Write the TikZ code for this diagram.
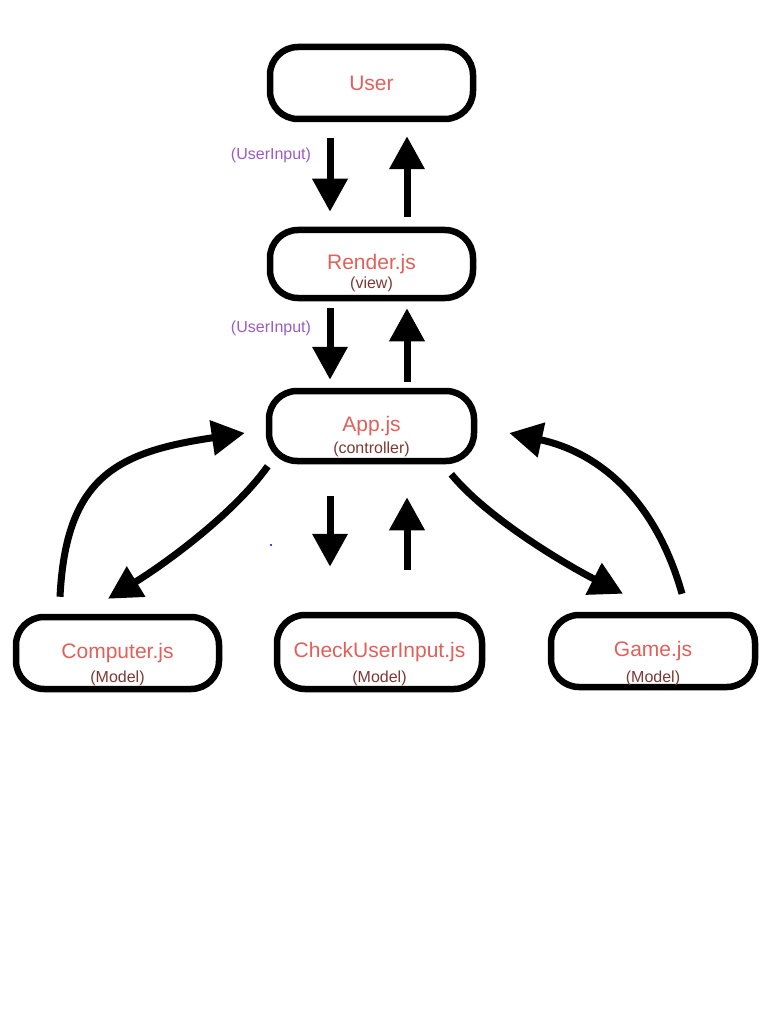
\documentclass[tikz,border=0pt]{standalone}
\usepackage{fontspec}
\setmainfont{Liberation Sans}
\usetikzlibrary{arrows.meta,calc}
\definecolor{titlered}{HTML}{E0605A}
\definecolor{subbrown}{HTML}{7A3A35}
\definecolor{inputpurple}{HTML}{9B5CC4}
\begin{document}
\begin{tikzpicture}[x=1pt,y=-1pt,
  box/.style={draw, line width=6.5pt, rounded corners=28pt, fill=white, text=titlered,
    font=\fontsize{21}{25}\selectfont, inner sep=0pt},
  subtxt/.style={text=subbrown, font=\fontsize{16}{19}\selectfont, inner sep=0pt},
  lbl/.style={text=inputpurple, font=\fontsize{16}{19}\selectfont, inner sep=0pt},
  arr/.style={line width=7pt, -{Triangle[length=33pt,width=34pt]}},
]
\useasboundingbox (0,0) rectangle (768,1024);
\fill[white] (0,0) rectangle (768,1024);

% boxes
\node[box, minimum width=203pt, minimum height=72pt] (user) at (371.5,83) {User};
\node[box, minimum width=203pt, minimum height=68pt] (render) at (371.5,264) {Render.js};
\node[box, minimum width=205pt, minimum height=70pt] (app) at (371.5,426) {App.js};
\node[box, minimum width=203pt, minimum height=72pt] (computer) at (117.5,653) {Computer.js};
\node[box, minimum width=205pt, minimum height=74pt] (check) at (379.5,652) {CheckUserInput.js};
\node[box, minimum width=204pt, minimum height=72pt] (game) at (653,651) {Game.js};

% sub labels
\node[subtxt] (renderSub) at ($(render.center)+(0,20)$) {(view)};
\node[subtxt] (appSub) at ($(app.center)+(0,23)$) {(controller)};
\node[subtxt] (computerSub) at ($(computer.center)+(0,25)$) {(Model)};
\node[subtxt] (checkSub) at ($(check.center)+(0,26)$) {(Model)};
\node[subtxt] (gameSub) at ($(game.center)+(0,27)$) {(Model)};

% input labels
\node[lbl] (in1) at (271,155) {(UserInput)};
\node[lbl] (in2) at (271,328) {(UserInput)};

% vertical arrows
\draw[arr, shorten <=16pt, shorten >=15pt] ([xshift=-41.5pt]user.south) -- ([xshift=-41.5pt]render.north);
\draw[arr, shorten <=10pt, shorten >=14pt] ([xshift=35.5pt]render.north) -- ([xshift=35.5pt]user.south);
\draw[arr, shorten <=7pt, shorten >=8pt] ([xshift=-41.5pt]render.south) -- ([xshift=-41.5pt]app.north);
\draw[arr, shorten <=6pt, shorten >=7pt] ([xshift=35.5pt]app.north) -- ([xshift=35.5pt]render.south);
\draw[arr, shorten <=32pt, shorten >=45pt] ([xshift=-41.5pt]app.south) -- ([xshift=-41.5pt]app.south |- check.north);
\draw[arr, shorten <=42pt, shorten >=33pt] ([xshift=35.5pt]app.south |- check.north) -- ([xshift=35.5pt]app.south);

% curved arrows
\draw[arr] ($(app.south west)+(2,2)$) .. controls +(-35,49) and +(54,-33) .. ($(computer.north)+(-9.5,-15)$);
\draw[arr] ($(computer.north)+(-57.5,-17)$) .. controls +(6,-120) and +(-128,19) .. ($(app.west)+(-21,7)$);
\draw[arr] ($(app.south east)+(-26,10)$) .. controls +(38,46) and +(-53,-27) .. ($(game.north)+(-30,-18)$);
\draw[arr] ($(game.north)+(29,-18)$) .. controls +(-27,-96) and +(88,19) .. ($(app.east)+(32,7)$);

% stray dot
\coordinate (dot) at (271,545);
\fill[blue] (dot) circle (1.2);
\end{tikzpicture}
\end{document}
